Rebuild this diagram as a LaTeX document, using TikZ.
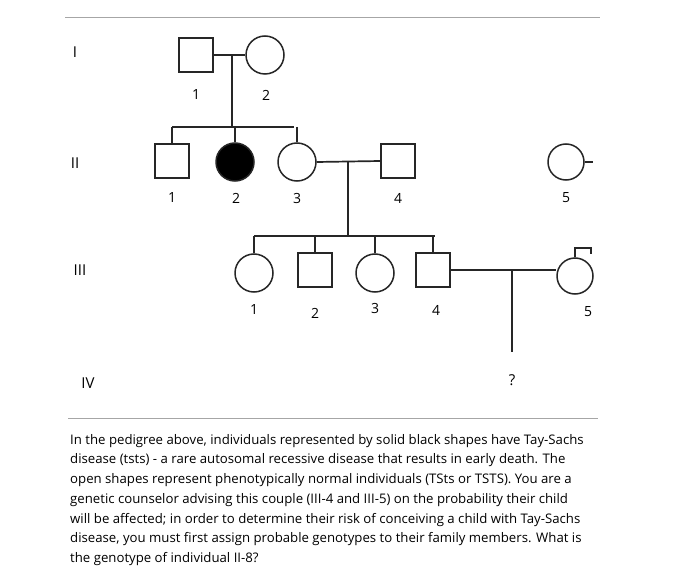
\documentclass[tikz,border=0pt]{standalone}
\usepackage{fontspec}
\setmainfont{Open Sans}
\begin{document}
\begin{tikzpicture}[x=1pt,y=-1pt,
  ind/.style={draw=black!85,line width=1.5pt,fill=white},
  sq/.style={ind,rectangle,minimum size=34pt,inner sep=0},
  ci/.style={ind,circle,minimum size=38pt,inner sep=0},
  ln/.style={draw=black!85,line width=1.7pt},
  num/.style={font=\fontsize{14}{14}\selectfont},
  gen/.style={font=\fontsize{15}{15}\selectfont}]
\useasboundingbox[fill=white] (0,0) rectangle (700,577);
\draw[gray!70,line width=1pt] (65,18) -- (600,18);
\draw[gray!70,line width=1pt] (68,418) -- (598,418);
\node[gen] (g1) at (75,52) {I};
\node[gen] (g2) at (75,163) {II};
\node[gen] (g3) at (80,270) {III};
\node[gen] (g4) at (88,383) {IV};
% Gen I
\node[sq] (i1) at (196,55) {};
\node[ci] (i2) at (265,55) {};
\draw[ln] (i1) -- (i2);
\coordinate (m1) at (232,55);
\coordinate (s1) at (232,127);
\draw[ln] (m1) -- (s1);
\node[num] at (196,95) {1};
\node[num] at (266,95) {2};
% Gen II
\node[sq] (ii1) at (172,161) {};
\node[ci,fill=black] (ii2) at (235,162) {};
\node[ci] (ii3) at (297,162) {};
\node[sq] (ii4) at (398,161) {};
\node[ci,minimum size=36pt] (ii5) at (566,162) {};
\draw[ln] (172,127) -- (294,127);
\draw[ln] (172,127) -- (ii1.north);
\draw[ln] (235,127) -- (ii2.north);
\draw[ln] (297,127) -- (ii3.north);
\draw[ln] (ii3.east) -- (ii4.west);
\coordinate (m2) at (348,161);
\coordinate (s2) at (348,236);
\draw[ln] (m2) -- (s2);
\draw[ln] (ii5.east) -- ++(8,0);
\node[num] at (172,198) {1};
\node[num] at (236,198) {2};
\node[num] at (297,198) {3};
\node[num] at (398,198) {4};
\node[num] at (566,198) {5};
% Gen III
\node[ci] (iii1) at (254,273) {};
\node[sq] (iii2) at (315,270) {};
\node[ci] (iii3) at (375,273) {};
\node[sq] (iii4) at (433,270) {};
\node[ci,minimum size=36pt] (iii5) at (575,276) {};
\draw[ln] (254,236) -- (435,236);
\draw[ln] (254,236) -- (iii1.north);
\draw[ln] (315,236) -- (iii2.north);
\draw[ln] (375,236) -- (iii3.north);
\draw[ln] (433,236) -- (iii4.north);
\draw[ln] (iii4.east) -- (iii5.west |- iii4.east);
\draw[ln] (iii5.north) -- (575,248) -- (591,248) -- (591,254);
\coordinate (m3) at (512,270);
\coordinate (c4) at (512,352);
\draw[ln] (m3) -- (c4);
\node[gen] (q) at (512,380) {?};
\node[num] at (254,310) {1};
\node[num] at (315,313) {2};
\node[num] at (375,308) {3};
\node[num] at (436,310) {4};
\node[num] at (588,312) {5};
% text
\node[anchor=north west,align=left,inner sep=0,font=\fontsize{13.2}{19.7}\selectfont] (txt) at (70,434) {In the pedigree above, individuals represented by solid black shapes have Tay-Sachs\\
disease (tsts) - a rare autosomal recessive disease that results in early death. The\\
open shapes represent phenotypically normal individuals (TSts or TSTS). You are a\\
genetic counselor advising this couple (III-4 and III-5) on the probability their child\\
will be affected; in order to determine their risk of conceiving a child with Tay-Sachs\\
disease, you must first assign probable genotypes to their family members. What is\\
the genotype of individual II-8?};
\end{tikzpicture}
\end{document}
